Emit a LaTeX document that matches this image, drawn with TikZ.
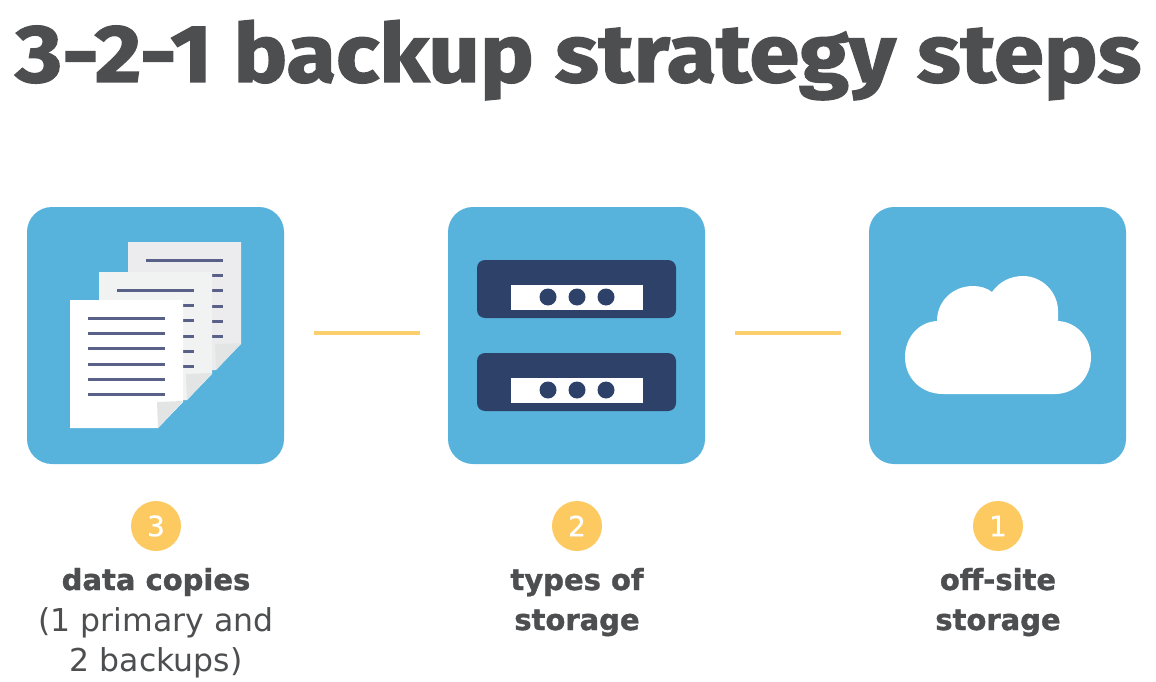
\documentclass[tikz,border=0pt]{standalone}
\usepackage{fontspec}
\setmainfont{DejaVu Sans}
\newfontfamily\heavyfont[UprightFont={* Bold},FakeBold=1.6]{Fira Sans}
\newfontfamily\semifont[UprightFont={* Bold},FakeBold=1.2]{DejaVu Sans}
\newfontfamily\digitfont[FakeBold=0.6]{DejaVu Sans}
\definecolor{tilec}{HTML}{57B3DC}
\definecolor{navy}{HTML}{2D4169}
\definecolor{amber}{HTML}{FBCF6E}
\definecolor{badgec}{HTML}{FDCA62}
\definecolor{ink}{HTML}{4D4E50}
\definecolor{rule}{HTML}{5A6189}
\definecolor{foldc}{HTML}{E3E5E4}
\definecolor{sheeta}{HTML}{ECECEE}
\definecolor{sheetb}{HTML}{F1F3F3}
\tikzset{
  tile/.style={fill=tilec,draw=none,rounded corners=25pt,minimum width=257pt,minimum height=257pt,inner sep=0pt},
  link/.style={draw=amber,line width=3.2pt,shorten <=30pt,shorten >=28pt},
  badge/.style={circle,fill=badgec,minimum size=50pt,inner sep=0pt,text=white,font=\fontsize{28}{28}\digitfont},
  caption/.style={anchor=base,text=ink,inner sep=0pt,font=\fontsize{31.5}{40}\selectfont},
  boldcaption/.style={anchor=base,text=ink,inner sep=0pt,font=\fontsize{29}{40}\semifont},
  textrule/.style={draw=rule,line width=3pt},
  drive/.style={fill=navy,rounded corners=8pt},
}
\newcommand{\sheet}[3]{%
  \begin{scope}[shift={(#1,#2)}]
    \fill[#3] (70,300) -- (183,300) -- (183,402) -- (158,428) -- (70,428) -- cycle;
    \fill[foldc] (183,401) -- (157,402) -- (158,428) -- cycle;
    \foreach \ly in {318,333,348,364,379,394}
      \draw[textrule] (88,\ly) -- (165,\ly);
  \end{scope}}
\newcommand{\drivebox}[1]{%
  \begin{scope}[shift={(0,#1)}]
    \fill[drive] (477,260) rectangle (676,318);
    \fill[white] (511,285) rectangle (643,310);
    \foreach \dx in {548,577,606} \fill[navy] (\dx,297) circle (8.5);
  \end{scope}}
\begin{document}
\begin{tikzpicture}[x=1pt,y=-1pt]
\useasboundingbox (0,0) rectangle (1156,682);
\fill[white] (0,0) rectangle (1156,682);
\node[anchor=base west,inner sep=0pt,text=ink] (title) at (15,82)
  {\resizebox{1126pt}{62pt}{\fontsize{80}{80}\heavyfont 3-2-1 backup strategy steps}};
\node[tile] (t1) at (155.5,335.5) {};
\node[tile] (t2) at (576.5,335.5) {};
\node[tile] (t3) at (997.5,335.5) {};
\draw[link] ([yshift=2.5pt]t1.east) -- ([yshift=2.5pt]t2.west);
\draw[link] ([yshift=2.5pt]t2.east) -- ([yshift=2.5pt]t3.west);
% documents
\sheet{58}{-58}{sheeta}
\sheet{29}{-28}{sheetb}
\sheet{0}{0}{white}
% drives
\drivebox{0}
\drivebox{93}
% cloud
\fill[white] (905,357) .. controls (905,338) and (918,322) .. (937,321)
  .. controls (937,301) and (953,286) .. (973,286)
  .. controls (980,286) and (987,288) .. (992,292)
  .. controls (999,282) and (1010,276) .. (1023,276)
  .. controls (1042,276) and (1058,292) .. (1058,311)
  -- (1058,321)
  .. controls (1077,322) and (1091,338) .. (1091,357)
  .. controls (1091,378) and (1075,394) .. (1055,394)
  -- (943,394) .. controls (921,394) and (905,378) .. (905,357) -- cycle;
% badges and captions
\node[badge] (b1) at (156,526) {3};
\node[badge] (b2) at (577,526) {2};
\node[badge] (b3) at (998,526) {1};
\node[boldcaption] (c1a) at (156,590) {data copies};
\node[caption] (c1b) at (156,631) {(1 primary and};
\node[caption] (c1c) at (156,671) {2 backups)};
\node[boldcaption] (c2a) at (577,590) {types of};
\node[boldcaption] (c2b) at (577,630) {storage};
\node[boldcaption] (c3a) at (998,590) {off-site};
\node[boldcaption] (c3b) at (998,630) {storage};
\end{tikzpicture}
\end{document}
